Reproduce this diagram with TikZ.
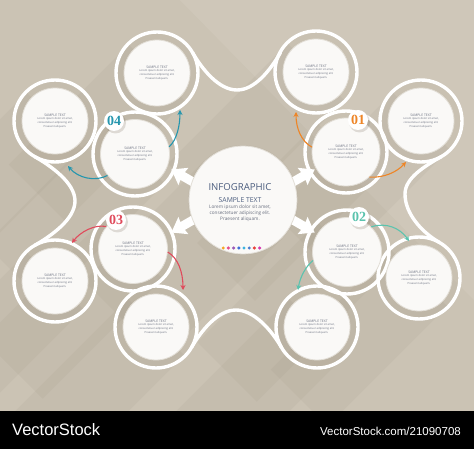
\documentclass[tikz,border=0pt]{standalone}
\usepackage{fontspec}
\setmainfont{Open Sans}
\newfontfamily\vsfont{Liberation Sans}
\newfontfamily\numfont{Liberation Serif}
\usetikzlibrary{arrows.meta}
\definecolor{bg}{HTML}{CBC3B4}
\definecolor{shadowc}{HTML}{6E6250}
\definecolor{discfill}{HTML}{FAF9F7}
\definecolor{discedge}{HTML}{E2DED6}
\definecolor{teal4}{HTML}{2596AE}
\definecolor{orange1}{HTML}{EE8526}
\definecolor{red3}{HTML}{E04B5C}
\definecolor{green2}{HTML}{5BC3AE}
\definecolor{titlec}{HTML}{4B5D7E}
\definecolor{textc}{HTML}{6A7080}
\definecolor{dA}{HTML}{F5A623}
\definecolor{dB}{HTML}{E84C8B}
\definecolor{dC}{HTML}{9B59B6}
\definecolor{dD}{HTML}{3F6FD8}
\definecolor{dE}{HTML}{3BB3E0}
\definecolor{dF}{HTML}{4A7BD0}
\definecolor{dG}{HTML}{E8413C}
\definecolor{dH}{HTML}{D63AAF}
\newcommand{\smalltext}{{\fontsize{3.4}{4.4}\selectfont SAMPLE TEXT}\\[-0.6pt]Lorem ipsum dolor sit amet,\\consectetuer adipiscing elit.\\Praesent aliquam.}
\begin{document}
\begin{tikzpicture}[x=1pt,y=-1pt,
  disc/.style={circle, inner sep=0pt, fill=discfill, draw=discedge, line width=0.8pt, align=center, text=textc, font=\fontsize{2.7}{3.6}\selectfont},
  ringline/.style={draw=white, line width=3.4pt},
  badge/.style={circle, fill=white, minimum size=20pt, inner sep=0pt, font=\numfont\bfseries\fontsize{14}{14}\selectfont},
  carrow/.style={line width=1.1pt, -{Stealth[length=5pt,width=5pt]}},
  bigarrow/.style={fill=white}
]
\useasboundingbox (0,0) rectangle (474,449);
\fill[bg] (0,0) rectangle (474,411);
\fill[white, opacity=0.08] (474,0) -- (474,300) -- (180,0) -- cycle;
% long shadows
\begin{scope}
\clip (0,0) rectangle (474,411);
\foreach \x/\y/\r in {157/73/40, 316/72/40, 55/121/40, 55/281/40, 421/121/40, 419/278/40, 156/327/40, 317/327/40, 135/154/42, 346/152/41, 133/249/42, 347/252/42, 243/200/55} {
  \fill[shadowc, opacity=0.055] ({\x-0.7071*\r},{\y-0.7071*\r}) -- ++(-120,120) -- ({\x+0.7071*\r-120},{\y+0.7071*\r+120}) -- ({\x+0.7071*\r},{\y+0.7071*\r}) -- cycle;
  \fill[shadowc, opacity=0.06] (\x,\y) circle[radius=\r pt];
}
\end{scope}
% rings
\foreach \x/\y/\r in {157/73/41, 316/72/41, 55/121/41, 55/281/41, 421/121/41, 419/278/41, 156/327/41, 317/327/41, 135/154/42, 346/152/41, 133/249/42, 347/252/42} {
  \draw[ringline] (\x,\y) circle[radius=\r pt];
}
% valley connectors of the snake
\draw[ringline] (192.5,52.5) .. controls (202.5,69.8) and (219,90) .. (237,90) .. controls (255,90) and (270.5,69.8) .. (280.5,52.5);
\draw[ringline] (191.5,347.5) .. controls (201.5,330.2) and (218,310) .. (236,310) .. controls (254,310) and (271.5,330.2) .. (281.5,347.5);
\draw[ringline] (34.5,156.5) .. controls (51.8,166.5) and (75,183) .. (75,201) .. controls (75,219) and (51.8,235.5) .. (34.5,245.5);
\draw[ringline] (441.5,156.5) .. controls (424.2,166.5) and (405,178) .. (405,194) .. controls (405,214) and (422.2,232.5) .. (439.5,242.5);
% big white arrows from the centre
\foreach \bx/\by/\ang in {193/182/150, 193/220/210, 293/182/30, 293/220/-30} {
  \begin{scope}[shift={(\bx,\by)}, rotate=\ang]
    \fill[bigarrow] (-4,-4.5) -- (12,-4.5) -- (11,-10) -- (25,0) -- (11,10) -- (12,4.5) -- (-4,4.5) -- cycle;
  \end{scope}
}
% discs
\node[disc, minimum size=66pt] (A1) at (157,73) {\smalltext};
\node[disc, minimum size=66pt] (A2) at (316,72) {\smalltext};
\node[disc, minimum size=66pt] (B1) at (55,121) {\smalltext};
\node[disc, minimum size=66pt] (B2) at (55,281) {\smalltext};
\node[disc, minimum size=66pt] (C1) at (421,121) {\smalltext};
\node[disc, minimum size=66pt] (C2) at (419,278) {\smalltext};
\node[disc, minimum size=66pt] (D1) at (156,327) {\smalltext};
\node[disc, minimum size=66pt] (D2) at (317,327) {\smalltext};
\node[disc, minimum size=69pt] (n04) at (135,154) {\smalltext};
\node[disc, minimum size=68pt] (n01) at (346,152) {\smalltext};
\node[disc, minimum size=69pt] (n03) at (133,249) {\smalltext};
\node[disc, minimum size=69pt] (n02) at (347,252) {\smalltext};
\node[disc, minimum size=108pt] (ctr) at (243,200) {};
\node[text=titlec, font=\fontsize{9.6}{11}\selectfont] (title) at (240,187) {INFOGRAPHIC};
\node[text=titlec, font=\fontsize{6.8}{8}\selectfont] (sub) at (240,200) {SAMPLE TEXT};
\node[text=textc, align=center, font=\fontsize{4.7}{6.2}\selectfont] (lorem) at (240,213.5) {Lorem ipsum dolor sit amet,\\consectetuer adipiscing elit.\\Praesent aliquam.};
\foreach \c [count=\i] in {dA,dB,dC,dD,dE,dF,dG,dH} {
  \fill[\c] ({218+5.2*\i},248) circle[radius=1.7pt];
}
% badges
\fill[shadowc, opacity=0.2] (115.5,123) circle[radius=10.5pt];
\fill[shadowc, opacity=0.2] (359.5,122) circle[radius=10.5pt];
\fill[shadowc, opacity=0.2] (117.5,222) circle[radius=10.5pt];
\fill[shadowc, opacity=0.2] (360.5,219) circle[radius=10.5pt];
\node[badge, text=teal4] (b04) at (114,121) {04};
\node[badge, text=orange1] (b01) at (358,120) {01};
\node[badge, text=red3] (b03) at (116,220) {03};
\node[badge, text=green2] (b02) at (359,217) {02};
% coloured arrows
\coordinate (t4a) at (180,110);
\coordinate (t4b) at (68,166);
\coordinate (o1a) at (296,112);
\coordinate (o1b) at (406,162);
\coordinate (r3a) at (72,243);
\coordinate (r3b) at (183,290);
\coordinate (g2a) at (409,241);
\coordinate (g2b) at (298,290);
\draw[carrow, teal4] (n04.12) .. controls (177,140) and (180,125) .. (t4a);
\draw[carrow, teal4] (n04.218) .. controls (95,182) and (78,178) .. (t4b);
\draw[carrow, orange1] (n01.172) .. controls (301,141) and (296,128) .. (o1a);
\draw[carrow, orange1] (n01.-47) .. controls (384,178) and (397,172) .. (o1b);
\draw[carrow, red3] (n03.140) .. controls (95,224) and (80,232) .. (r3a);
\draw[carrow, red3] (n03.-5) .. controls (178,258) and (183,272) .. (r3b);
\draw[carrow, green2] (n02.46) .. controls (386,222) and (400,228) .. (g2a);
\draw[carrow, green2] (n02.194) .. controls (306,266) and (300,277) .. (g2b);
% footer
\fill[black] (0,411) rectangle (474,449);
\node[anchor=west, text=white, inner sep=0pt, font=\vsfont\fontsize{16.5}{18}\selectfont] (vs) at (12,430) {VectorStock};
\node[anchor=east, text=white, inner sep=0pt, font=\vsfont\fontsize{11.5}{13}\selectfont] (vsurl) at (461,431) {VectorStock.com/21090708};
\end{tikzpicture}
\end{document}
